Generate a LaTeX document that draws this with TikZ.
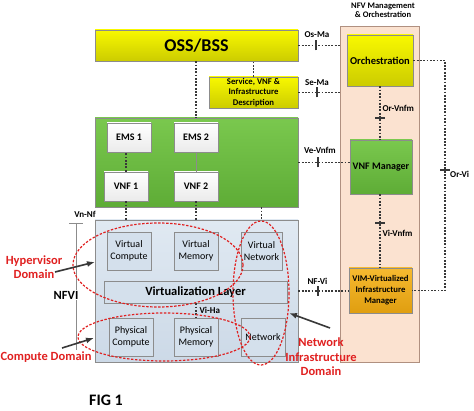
\documentclass[tikz,border=0pt]{standalone}
\usepackage{fontspec}
\setmainfont{Carlito}
\usetikzlibrary{arrows.meta,decorations.markings}
\definecolor{boxgray}{HTML}{8C8C8C}
\definecolor{linegray}{HTML}{383838}
\definecolor{ossyellow}{HTML}{F8F800}
\definecolor{ossolive}{HTML}{CCCC00}
\definecolor{vnfgreen}{HTML}{7AC84E}
\definecolor{vnfdark}{HTML}{5EAC36}
\definecolor{nfvitop}{HTML}{E0E9F2}
\definecolor{nfvibot}{HTML}{CCD9E7}
\definecolor{hwblue}{HTML}{D4E0EC}
\definecolor{manopeach}{HTML}{FBE2D0}
\definecolor{manoedge}{HTML}{B09080}
\definecolor{vimtop}{HTML}{F6BA30}
\definecolor{vimbot}{HTML}{E09E10}
\definecolor{domred}{HTML}{E02020}
\tikzset{
  blk/.style={
    draw=boxgray,
    line width=0.8pt,
    inner sep=1pt,
    align=center,
    font=\bfseries\fontsize{10}{11}\selectfont
  },
  yellowblk/.style={blk, top color=ossyellow, bottom color=ossolive},
  greenblk/.style={blk, top color=vnfgreen, bottom color=vnfdark},
  whiteblk/.style={blk, top color=white, bottom color=black!8,
    minimum width=44, minimum height=29},
  nfviblk/.style={blk, top color=nfvitop, bottom color=nfvibot},
  blueblk/.style={blk, fill=hwblue, minimum width=44, minimum height=38,
    font=\fontsize{10}{12}\selectfont},
  iface/.style={draw=linegray, line width=1.2pt, dash pattern=on 1.8pt off 1.5pt},
  ifmark/.style={postaction={decorate, decoration={markings,
    mark=at position #1 with {\draw[solid, line width=1.6pt, linegray] (0,-5pt) -- (0,5pt);}}}},
  iflabel/.style={font=\bfseries\fontsize{9}{10}\selectfont, inner sep=0pt},
  domring/.style={draw=domred, line width=1.2pt, dash pattern=on 2.4pt off 1.6pt},
  domlabel/.style={text=domred, font=\bfseries\fontsize{12.5}{14.5}\selectfont,
    align=center, inner sep=0pt},
  pointer/.style={draw=linegray, line width=1.6pt, -{Latex[length=8pt,width=6pt]}}
}
\begin{document}
\begin{tikzpicture}[x=1pt,y=-1pt]
  \useasboundingbox (0,0) rectangle (474,411);

  % management and orchestration
  \node[draw=manoedge, line width=0.8pt, fill=manopeach,
    minimum width=79, minimum height=336] (mano) at (379.5,194.5) {};
  \node[iflabel, font=\bfseries\fontsize{8.5}{9.5}\selectfont, align=center]
    (manotitle) at (383,10.5) {NFV Management\\\& Orchestration};
  \node[yellowblk, minimum width=66, minimum height=51,
    font=\bfseries\fontsize{10.5}{12}\selectfont] (orch) at (380,60.5) {Orchestration};
  \node[greenblk, minimum width=62, minimum height=54] (vnfm) at (381,167) {VNF Manager};
  \node[blk, top color=vimtop, bottom color=vimbot, minimum width=63, minimum height=45,
    font=\bfseries\fontsize{8.7}{11}\selectfont] (vim) at (380.5,290.5)
    {VIM-Virtualized\\Infrastructure\\Manager};

  % OSS/BSS and VNFs
  \node[yellowblk, minimum width=203, minimum height=31,
    font=\bfseries\fontsize{18}{20}\selectfont] (oss) at (196.5,45.5) {OSS/BSS};
  \node[yellowblk, minimum width=89, minimum height=31,
    font=\bfseries\fontsize{8.7}{10.5}\selectfont] (desc) at (253.5,92.5)
    {Service, VNF \&\\Infrastructure\\Description};
  \node[greenblk, minimum width=203, minimum height=89] (vnfarea) at (196.5,162.5) {};
  \node[whiteblk] (ems1) at (129,137.5) {EMS 1};
  \node[whiteblk] (ems2) at (196,137.5) {EMS 2};
  \node[whiteblk] (vnf1) at (126,186.5) {VNF 1};
  \node[whiteblk] (vnf2) at (196,186.5) {VNF 2};

  % NFVI
  \node[nfviblk, minimum width=203, minimum height=142] (nfvi) at (196.5,291) {};
  \node[blueblk] (vcomp) at (129,251) {Virtual\\Compute};
  \node[blueblk] (vmem) at (196,251) {Virtual\\Memory};
  \node[blueblk, minimum width=41] (vnet) at (261.5,251) {Virtual\\Network};
  \node[blueblk, minimum width=183, minimum height=22,
    font=\bfseries\fontsize{12.5}{14}\selectfont] (vlayer) at (195.5,292) {Virtualization Layer};
  \node[blueblk] (pcomp) at (131,337) {Physical\\Compute};
  \node[blueblk] (pmem) at (196,337) {Physical\\Memory};
  \node[blueblk] (pnet) at (263,337) {Network};

  % reference points
  \draw[iface] (oss.south -| ems2) -- (vnfarea.north -| ems2);
  \draw[iface] (desc.north) -- (desc.north |- oss.south);
  \draw[iface] (vnf1.north) -- (vnf1.north |- ems1.south);
  \draw[draw=boxgray, line width=0.6pt] (ems2) -- (vnf2);
  \draw[iface] (vnf1.south) -- (vnf1.south |- nfvi.north);
  \draw[iface] (vnf2.south) -- (vnf2.south |- nfvi.north);
  \draw[iface] (vnet.north |- vnfarea.south) -- (vnet.north |- nfvi.north);
  \draw[iface] (vlayer.south -| pmem) -- (pmem.north)
    node[iflabel, midway, right=3pt] (viha) {Vi-Ha};
  \node[iflabel] (vnnf) at (85,214) {Vn-Nf};

  \draw[iface, ifmark=0.43] (oss.east) --
    node[iflabel, pos=0.45, above=7pt] (osma) {Os-Ma} (oss.east -| mano.west);
  \draw[iface, ifmark=0.45] (desc.east) --
    node[iflabel, pos=0.45, above=6pt] (sema) {Se-Ma} (desc.east -| mano.west);
  \draw[iface, ifmark=0.38] (vnfarea.east) --
    node[iflabel, pos=0.42, above=8pt] (vevnfm) {Ve-Vnfm} (vnfarea.east -| vnfm.west);
  \draw[iface, ifmark=0.39] (nfvi.east) --
    node[iflabel, pos=0.38, above=6pt] (nfvilbl) {NF-Vi} (nfvi.east -| vim.west);
  \draw[iface, ifmark=0.59] (orch.south) --
    node[iflabel, pos=0.42, right=2pt] (orvnfm) {Or-Vnfm} (orch.south |- vnfm.north);
  \draw[iface, ifmark=0.39] (vnfm.south -| orch) --
    node[iflabel, pos=0.53, right=2pt] (vivnfm) {Vi-Vnfm} (vim.north -| orch);
  \coordinate (orvibus) at (445,0);
  \draw[iface, ifmark=0.48] (orch.east) -| (orvibus |- vim.east) -- (vim.east);
  \node[iflabel, anchor=west] (orvi) at (450,174) {Or-Vi};

  % NFVI bracket
  \draw[draw=boxgray, line width=0.8pt] (76,223) -- (76,350);
  \draw[draw=boxgray, line width=0.8pt] (69,223) -- (83,223);
  \node[fill=white, inner sep=1pt, font=\bfseries\fontsize{12.5}{14}\selectfont]
    (nfvitxt) at (66,295) {NFVI};

  % domains
  \draw[domring] (158,265) ellipse [x radius=85, y radius=42];
  \draw[domring] (164,337) ellipse [x radius=86, y radius=24];
  \draw[domring] (261,293) ellipse [x radius=28, y radius=72];
  \node[domlabel] (hypdom) at (34,267) {Hypervisor\\Domain};
  \node[domlabel] (compdom) at (46,357) {Compute Domain};
  \node[domlabel] (netdom) at (321,357) {Network\\Infrastructure\\Domain};
  \coordinate (hyptail) at (55,272);
  \coordinate (hyptip) at (95,262);
  \coordinate (comptail) at (62,348);
  \coordinate (comptip) at (94,338);
  \coordinate (nettail) at (330,328);
  \coordinate (nettip) at (289,313);
  \draw[pointer] (hyptail) -- (hyptip);
  \draw[pointer] (comptail) -- (comptip);
  \draw[pointer] (nettail) -- (nettip);

  \node[font=\bfseries\fontsize{16}{18}\selectfont] (fig) at (106,400) {FIG 1};
\end{tikzpicture}
\end{document}
